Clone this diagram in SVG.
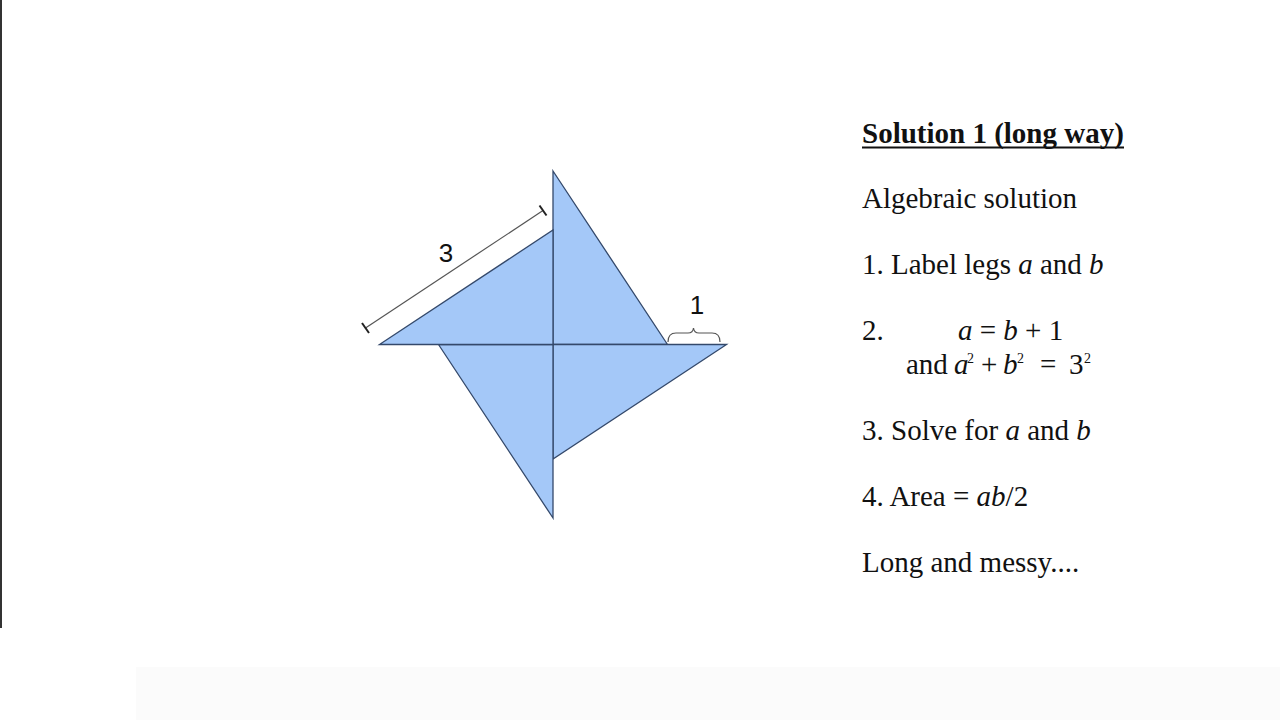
<svg xmlns="http://www.w3.org/2000/svg" width="1280" height="720" viewBox="0 0 1280 720">
<style>
.tri{fill:#a4c8f8;stroke:#34496b;stroke-width:1.3;stroke-linejoin:miter}
.dim{fill:none;stroke:#555;stroke-width:1.2}
.tick{stroke:#222;stroke-width:2}
.lab{font-family:"Liberation Sans",Arial,sans-serif;font-size:26px;fill:#111}
.t{font-family:"Liberation Serif","Times New Roman",serif;font-size:29px;fill:#111}
.i{font-style:italic}
.sup{font-size:14px}
</style>
<rect width="1280" height="720" fill="#fff"/>
<line x1="1" y1="0" x2="1" y2="628" stroke="#333" stroke-width="2"/>
<rect x="136" y="667" width="1144" height="53" fill="#fbfbfb"/>
<g id="figure">
<polygon id="tri-top" class="tri" points="553,171 667.5,344.5 553,344.5"/>
<polygon id="tri-right" class="tri" points="726.5,344.5 553,459 553,344.5"/>
<polygon id="tri-bottom" class="tri" points="553,518 438.5,344.5 553,344.5"/>
<polygon id="tri-left" class="tri" points="379.5,344.5 553,230 553,344.5"/>
</g>
<g id="connectors">
<line class="dim" x1="365.5" y1="328" x2="543" y2="210.5"/>
<line class="tick" x1="362" y1="323" x2="369" y2="333"/>
<line class="tick" x1="539.5" y1="205.5" x2="546.5" y2="215.5"/>
<path class="dim" d="M668,342 Q668,333 676,333 L688,333 Q693,333 693.5,328 Q694,333 699,333 L712,333 Q720,333 720,342"/>
</g>
<text class="lab" x="446" y="262" text-anchor="middle">3</text>
<text class="lab" x="697" y="314" text-anchor="middle">1</text>
<g id="text">
<text class="t" x="862" y="143" font-weight="bold">Solution 1 (long way)</text>
<line x1="862" y1="147.5" x2="1124" y2="147.5" stroke="#111" stroke-width="2"/>
<text class="t" x="862" y="208">Algebraic solution</text>
<text class="t" x="862" y="274">1. Label legs <tspan class="i">a</tspan> and <tspan class="i">b</tspan></text>
<text class="t" x="862" y="340">2.</text>
<text class="t" x="958" y="340"><tspan class="i">a</tspan> = <tspan class="i">b</tspan> + 1</text>
<text class="t" y="374"><tspan x="906">and</tspan><tspan class="i" x="954">a</tspan><tspan class="sup" x="967" y="363">2</tspan><tspan x="981" y="374">+</tspan><tspan class="i" x="1003">b</tspan><tspan class="sup" x="1017" y="363">2</tspan><tspan x="1040" y="374">=</tspan><tspan x="1069">3</tspan><tspan class="sup" x="1084" y="363">2</tspan></text>
<text class="t" x="862" y="440">3. Solve for <tspan class="i">a</tspan> and <tspan class="i">b</tspan></text>
<text class="t" x="862" y="506">4. Area = <tspan class="i">ab</tspan>/2</text>
<text class="t" x="862" y="572">Long and messy....</text>
</g>
</svg>
